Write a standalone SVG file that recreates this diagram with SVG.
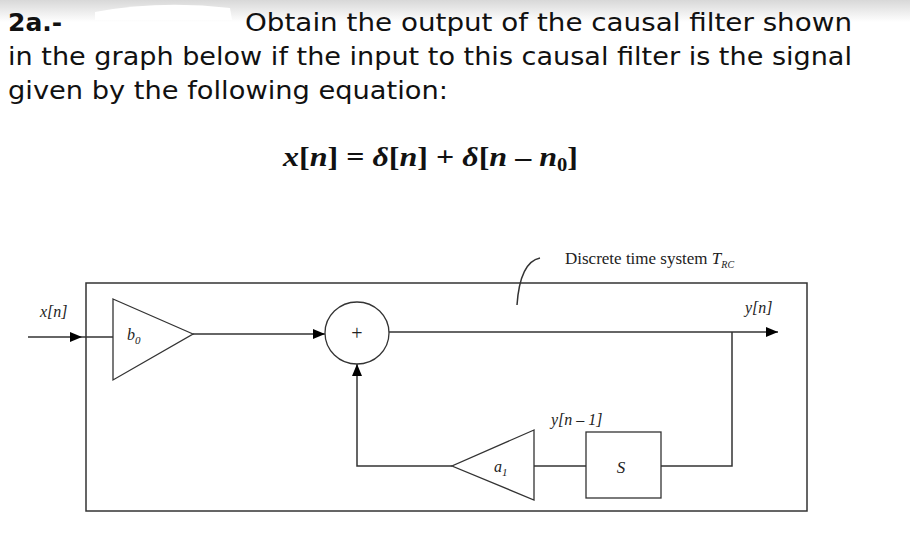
<svg xmlns="http://www.w3.org/2000/svg" width="910" height="552" viewBox="0 0 910 552">
<defs>
<linearGradient id="g" x1="0" y1="0" x2="0" y2="1"><stop offset="0" stop-color="#d8d8d8"/><stop offset="1" stop-color="#fff"/></linearGradient>
<marker id="ah" markerWidth="12" markerHeight="10" refX="12" refY="5" orient="auto" markerUnits="userSpaceOnUse"><path d="M0,0 L12,5 L0,10 Z" fill="#000"/></marker>
</defs>
<style>
.h{font-family:"DejaVu Sans",Verdana,sans-serif;font-size:25px;fill:#111}
.m{font-family:"Liberation Serif",serif;font-style:italic;fill:#222}
.t{font-family:"Liberation Serif",serif;fill:#222}
.ln{stroke:#333;stroke-width:1.5;fill:none}
.sh{stroke:#333;stroke-width:1.3;fill:#fff}
</style>
<rect width="910" height="552" fill="#fff"/>
<rect width="910" height="22" fill="url(#g)"/>
<path d="M95,12 Q160,0 230,8 L232,20 L95,20 Z" fill="#fff"/>
<text class="h" x="8" y="31" font-weight="bold">2a.-</text>
<text class="h" x="245" y="31" textLength="607" lengthAdjust="spacingAndGlyphs">Obtain the output of the causal filter shown</text>
<text class="h" x="8" y="65" textLength="844" lengthAdjust="spacingAndGlyphs">in the graph below if the input to this causal filter is the signal</text>
<text class="h" x="8" y="99" textLength="440" lengthAdjust="spacingAndGlyphs">given by the following equation:</text>
<text x="283" y="166" font-family="Liberation Serif,serif" font-weight="bold" font-size="28" fill="#111" textLength="295" lengthAdjust="spacingAndGlyphs"><tspan font-style="italic">x</tspan>[<tspan font-style="italic">n</tspan>] = <tspan font-style="italic">δ</tspan>[<tspan font-style="italic">n</tspan>] + <tspan font-style="italic">δ</tspan>[<tspan font-style="italic">n</tspan> – <tspan font-style="italic">n</tspan><tspan font-size="18" dy="5">0</tspan><tspan dy="-5">]</tspan></text>
<g id="system"><rect x="86" y="283" width="721" height="228" class="ln"/></g>
<g id="connectors">
<line x1="28" y1="337" x2="82" y2="337" class="ln" marker-end="url(#ah)"/>
<line x1="82" y1="337" x2="113" y2="337" class="ln"/>
<line x1="193" y1="334" x2="325" y2="334" class="ln" marker-end="url(#ah)"/>
<line x1="389" y1="332" x2="778" y2="332" class="ln" marker-end="url(#ah)"/>
<polyline points="732,332 732,466 661,466" class="ln"/>
<line x1="586" y1="466" x2="534" y2="466" class="ln"/>
<polyline points="452,466 357,466 357,364" class="ln" marker-end="url(#ah)"/>
<path d="M540,258 Q520,262 517,305" class="ln" stroke-width="1"/>
</g>
<g id="b0"><polygon points="113,299 193,334 113,380" class="sh"/><text class="m" x="127" y="340" font-size="16">b<tspan font-size="11" dy="4">0</tspan></text></g>
<g id="sum"><ellipse cx="357" cy="333" rx="32" ry="31" class="sh"/><text class="t" x="357" y="340" font-size="20" text-anchor="middle">+</text></g>
<g id="a1"><polygon points="534,430 452,466 534,500" class="sh"/><text class="m" x="494" y="472" font-size="16">a<tspan font-size="11" dy="4">1</tspan></text></g>
<g id="S"><rect x="586" y="432" width="75" height="66" class="sh"/><text class="m" x="621" y="473" font-size="17" text-anchor="middle">S</text></g>
<text class="m" x="40" y="317" font-size="16">x[n]</text>
<text class="m" x="745" y="313" font-size="16">y[n]</text>
<text class="m" x="551" y="425" font-size="16">y[n – 1]</text>
<text class="t" x="565" y="264" font-size="17">Discrete time system <tspan font-style="italic">T</tspan><tspan font-style="italic" font-size="10" dy="4">RC</tspan></text>
</svg>
